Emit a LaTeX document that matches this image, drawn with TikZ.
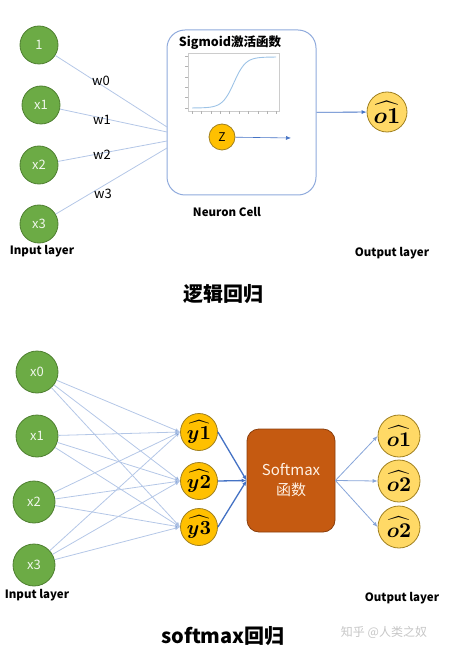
\documentclass[tikz,border=0pt]{standalone}
\usepackage{bm}
\usepackage[no-math]{fontspec}
\setmainfont{Noto Sans CJK SC}
\usetikzlibrary{arrows.meta,positioning}
\definecolor{ingreen}{HTML}{6CAB45}
\definecolor{inedge}{HTML}{4E7F30}
\definecolor{zyellow}{HTML}{FFC000}
\definecolor{oyellow}{HTML}{FFD966}
\definecolor{yedge}{HTML}{A08020}
\definecolor{linkblue}{HTML}{B4C7E7}
\definecolor{arrblue}{HTML}{4472C4}
\definecolor{celledge}{HTML}{8FAADC}
\definecolor{smorange}{HTML}{C55A11}
\definecolor{smedge}{HTML}{8A3E0C}
\definecolor{curveblue}{HTML}{9DC3E6}
\newcommand{\hatlbl}[2]{\scalebox{#1}{$\bm{\widehat{#2}}$}}

\begin{document}
\begin{tikzpicture}[x=1pt,y=-1pt,
    inunit/.style={circle,fill=ingreen,draw=inedge,line width=0.8pt,inner sep=0pt,
      text=white!90!ingreen,font=\fontsize{13}{13}\selectfont},
    hatunit/.style={circle,draw=yedge,line width=0.8pt,inner sep=0pt,font=\fontsize{10}{10}\selectfont},
    caption/.style={font=\bfseries\fontsize{11.5}{13}\selectfont},
    weight/.style={font=\fontsize{13}{13}\selectfont},
    link/.style={linkblue,line width=0.8pt},
    flow/.style={arrblue,line width=0.8pt,-{Latex[length=5pt,width=4pt]}}]
        \useasboundingbox (0,0) rectangle (450,652);

        % logistic regression
        \node[inunit,minimum size=38pt] (a0) at (39,45) {1};
        \node[inunit,minimum size=38pt] (a1) at (41,105) {x1};
        \node[inunit,minimum size=38pt] (a2) at (39,165) {x2};
        \node[inunit,minimum size=38pt] (a3) at (39,224) {x3};

        \node[draw=celledge,line width=1pt,rounded corners=18pt,minimum width=149pt,
          minimum height=165pt] (cell) at (241.5,112.5) {};
        \coordinate (c0) at (167,127);
        \coordinate (c1) at (167,132);
        \coordinate (c2) at (167,141);
        \coordinate (c3) at (167,148);

        \foreach \i in {0,1,2,3}
        {
            \draw[link] (a\i) -- (c\i);
        };
        \node[weight] at (101,81) {w0};
        \node[weight] at (102,120) {w1};
        \node[weight] at (102,155) {w2};
        \node[weight] at (103,194) {w3};

        \node[font=\bfseries\fontsize{12.5}{13}\selectfont] (sig) at (230,43) {Sigmoid激活函数};
        % sigmoid plot
        \draw[gray!40,line width=0.5pt] (188,53) rectangle (279,111);
        \foreach \t in {0,...,9}
        {
            \draw[gray!60,line width=0.4pt] (192+\t*9.4,111) -- (192+\t*9.4,114);
        };
        \foreach \t in {0,...,5}
        {
            \draw[gray!60,line width=0.4pt] (188,56+\t*10.4) -- (185,56+\t*10.4);
        };
        \draw[curveblue,line width=0.9pt,smooth] plot[domain=-6:6,samples=60]
          ({234+7*\x},{108-51/(1+exp(-1.2*\x))});

        \node[circle,fill=zyellow,draw=yedge,line width=0.8pt,minimum size=26pt,inner sep=0pt,
          font=\fontsize{12}{12}\selectfont] (z) at (222,137) {Z};
        \coordinate (zout) at (291,138);
        \draw[flow,line width=0.6pt] (z) -- (zout);

        \node[hatunit,fill=oyellow,minimum size=40pt] (o0) at (387,112) {\hatlbl{2.3}{o1}};
        \draw[flow] (cell) -- (o0);

        \node[caption] at (227,212) {Neuron Cell};
        \node[caption] at (42,251) {Input layer};
        \node[caption] at (392,253) {Output layer};
        \node[font=\bfseries\fontsize{20}{20}\selectfont] at (223,294) {逻辑回归};

        % softmax regression
        \node[inunit,minimum size=42pt] (x0) at (37,372) {x0};
        \node[inunit,minimum size=42pt] (x1) at (37,436) {x1};
        \node[inunit,minimum size=42pt] (x2) at (34,502) {x2};
        \node[inunit,minimum size=42pt] (x3) at (34,565) {x3};

        \node[hatunit,fill=zyellow,minimum size=37pt] (y1) at (199,432) {\hatlbl{2.0}{y1}};
        \node[hatunit,fill=zyellow,minimum size=37pt] (y2) at (199,481) {\hatlbl{2.0}{y2}};
        \node[hatunit,fill=zyellow,minimum size=37pt] (y3) at (199,527) {\hatlbl{2.0}{y3}};

        \node[fill=smorange,draw=smedge,line width=0.8pt,rounded corners=12pt,
          minimum width=88pt,minimum height=103pt,align=center,text=orange!10,
          font=\fontsize{15}{20}\selectfont] (sm) at (291,480.5) {Softmax\\函数};

        \node[hatunit,fill=oyellow,minimum size=42pt] (o1) at (399,436) {\hatlbl{2.1}{o1}};
        \node[hatunit,fill=oyellow,minimum size=42pt] (o2) at (399,481) {\hatlbl{2.1}{o2}};
        \node[hatunit,fill=oyellow,minimum size=42pt] (o3) at (399,527) {\hatlbl{2.1}{o2}};

        \foreach \i in {0,1,2,3}
        {
            \foreach \j in {1,2,3}
            {
                \draw[link,-{Latex[length=5pt,width=4pt,fill=arrblue]}] (x\i) -- (y\j.west);
            };
        };
        \foreach \j in {1,2,3}
        {
            \draw[flow,line width=1.3pt] (y\j.east) -- (sm.west);
            \draw[flow,linkblue!60!arrblue] (sm.east) -- (o\j.west);
        };

        \node[caption] at (37,595) {Input layer};
        \node[caption] at (402,598) {Output layer};
        \node[font=\bfseries\fontsize{20}{20}\selectfont] at (223,636) {softmax回归};
        \node[text=gray!45,font=\fontsize{12}{12}\selectfont] at (384,632) {知乎 @人类之奴};
    \end{tikzpicture}
\end{document}
